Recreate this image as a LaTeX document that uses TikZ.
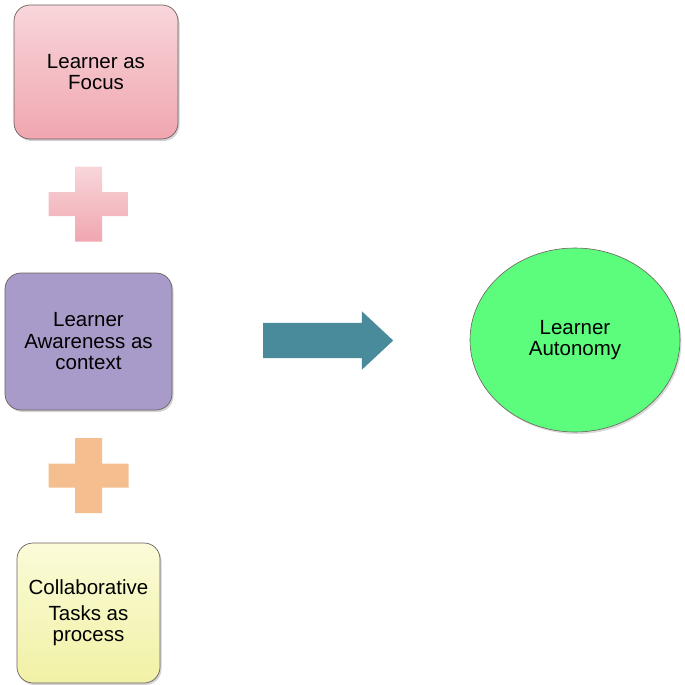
\documentclass[tikz,border=0pt]{standalone}
\usepackage{fontspec}
\setmainfont{Liberation Sans}
\usepackage{xcolor}
\usepackage{tikz}
\usetikzlibrary{positioning, calc, shapes.arrows, shapes.geometric, shadows}
\definecolor{focuspink}{HTML}{F0A6B0}
\definecolor{focuslight}{HTML}{F8D6DA}
\definecolor{awarelilac}{HTML}{A99BC9}
\definecolor{taskyellow}{HTML}{F1F1A6}
\definecolor{tasklight}{HTML}{FBFBD8}
\definecolor{plusorange}{HTML}{F5BE8E}
\definecolor{arrowteal}{HTML}{4A8B9B}
\definecolor{autogreen}{HTML}{5CFD7C}
\definecolor{edgegrey}{HTML}{6E5E5E}

\begin{document}
\begin{tikzpicture}[x=1pt, y=-1pt,
    block/.style={draw=edgegrey, line width=0.7pt, rounded corners=16pt, align=center,
                  inner sep=0pt, font=\fontsize{20.5}{21.5}\selectfont,
                  drop shadow={shadow xshift=1.5pt, shadow yshift=-2pt, opacity=0.35}},
    plussign/.pic={\path[pic actions] (-40,-12) -| (-13.5,-37.5) -| (13.5,-12)
                   -| (40,12) -| (13.5,37.5) -| (-13.5,12) -| (-40,-12) -- cycle;}]
    \useasboundingbox (0,0) rectangle (685,685);

    % the three parts on the left
    \node[block, top color=focuslight, bottom color=focuspink,
          minimum width=164pt, minimum height=134pt] (focus) at (96,72)
          {Learner as\\Focus};
    \node[block, fill=awarelilac,
          minimum width=167pt, minimum height=137pt] (aware) at (88.5,341.5)
          {Learner\\Awareness as\\context};
    \node[block, top color=tasklight, bottom color=taskyellow,
          minimum width=143pt, minimum height=140pt] (tasks) at (88.5,613)
          {Collaborative\\[4pt]Tasks as\\process};

    % plus signs
    \pic[top color=focuslight, bottom color=focuspink] (plusA) at (88.5,204) {plussign};
    \pic[fill=plusorange] (plusB) at (88.5,475.5) {plussign};

    % result
    \node[single arrow, fill=arrowteal, inner xsep=0pt, inner ysep=17.5pt,
          minimum height=130pt, single arrow head extend=11.5pt,
          single arrow tip angle=86, anchor=tail] (arrow) at (263,340.5) {};
    \node[ellipse, draw=edgegrey, line width=0.6pt, fill=autogreen, inner sep=0pt,
          minimum width=210pt, minimum height=184pt, align=center,
          font=\fontsize{20.5}{21.5}\selectfont,
          drop shadow={shadow xshift=1.5pt, shadow yshift=-2pt, opacity=0.3}]
          (autonomy) at (575,340) {Learner\\Autonomy};
\end{tikzpicture}
\end{document}
